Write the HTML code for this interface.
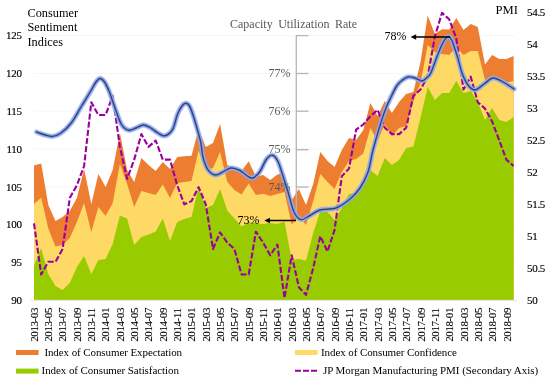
<!DOCTYPE html>
<html><head><meta charset="utf-8"><title>Chart</title>
<style>html,body{margin:0;padding:0;background:#fff}body{width:550px;height:381px;position:relative;overflow:hidden}</style></head>
<body>
<svg width="550" height="381" viewBox="0 0 550 381" style="position:absolute;left:0;top:0">
<line x1="34" x2="514.5" y1="262.2" y2="262.2" stroke="#f5f5f5" stroke-width="1"/>
<line x1="34" x2="514.5" y1="224.5" y2="224.5" stroke="#f5f5f5" stroke-width="1"/>
<line x1="34" x2="514.5" y1="186.7" y2="186.7" stroke="#f5f5f5" stroke-width="1"/>
<line x1="34" x2="514.5" y1="148.9" y2="148.9" stroke="#f5f5f5" stroke-width="1"/>
<line x1="34" x2="514.5" y1="111.1" y2="111.1" stroke="#f5f5f5" stroke-width="1"/>
<line x1="34" x2="514.5" y1="73.4" y2="73.4" stroke="#f5f5f5" stroke-width="1"/>
<line x1="34" x2="514.5" y1="35.6" y2="35.6" stroke="#f5f5f5" stroke-width="1"/>
<polygon fill="#ED7D31" points="34.0,300 34.0,165.6 41.2,163.6 48.3,205.0 55.5,221.0 62.6,217.0 69.8,211.0 76.9,198.0 84.1,169.0 91.3,204.0 98.4,174.0 105.6,187.0 112.7,170.0 119.9,133.0 127.1,170.0 134.2,182.0 141.4,158.0 148.5,165.0 155.7,171.0 162.8,162.0 170.0,169.0 177.2,157.0 184.3,156.3 191.5,155.7 198.6,129.0 205.8,147.0 213.0,143.0 220.1,124.0 227.3,165.0 234.4,168.5 241.6,171.0 248.7,161.3 255.9,176.5 263.1,175.0 270.2,180.0 277.4,174.5 284.5,173.0 291.7,200.0 298.9,189.0 306.0,205.0 313.2,184.0 320.3,152.0 327.5,161.0 334.6,167.0 341.8,150.0 349.0,138.0 356.1,140.0 363.3,130.0 370.4,103.0 377.6,116.0 384.8,101.0 391.9,113.0 399.1,102.0 406.2,94.0 413.4,92.0 420.5,62.0 427.7,15.5 434.9,34.0 442.0,29.3 449.2,29.5 456.3,18.0 463.5,30.0 470.7,24.0 477.8,27.0 485.0,64.5 492.1,55.0 499.3,59.0 506.4,59.0 513.6,56.0 513.6,300"/>
<polygon fill="#FFD966" points="34.0,300 34.0,204.0 41.2,197.8 48.3,228.5 55.5,246.5 62.6,245.0 69.8,238.0 76.9,222.0 84.1,203.0 91.3,232.0 98.4,207.0 105.6,216.0 112.7,203.0 119.9,164.0 127.1,184.0 134.2,207.0 141.4,191.0 148.5,193.0 155.7,195.0 162.8,184.4 170.0,198.0 177.2,183.0 184.3,182.0 191.5,181.0 198.6,150.5 205.8,170.0 213.0,168.0 220.1,152.0 227.3,182.0 234.4,190.0 241.6,194.5 248.7,183.6 255.9,195.0 263.1,193.7 270.2,196.0 277.4,194.0 284.5,192.0 291.7,224.5 298.9,216.0 306.0,225.0 313.2,201.0 320.3,174.0 327.5,182.0 334.6,189.0 341.8,172.0 349.0,161.0 356.1,159.0 363.3,153.5 370.4,128.0 377.6,141.0 384.8,124.0 391.9,136.0 399.1,128.0 406.2,126.0 413.4,101.0 420.5,83.0 427.7,45.0 434.9,52.0 442.0,54.0 449.2,55.0 456.3,47.0 463.5,55.0 470.7,51.0 477.8,51.0 485.0,80.0 492.1,79.5 499.3,81.0 506.4,82.5 513.6,81.0 513.6,300"/>
<polygon fill="#99CC00" points="34.0,300 34.0,265.0 41.2,248.3 48.3,274.0 55.5,286.0 62.6,290.0 69.8,283.0 76.9,267.0 84.1,256.0 91.3,274.0 98.4,260.0 105.6,259.0 112.7,244.0 119.9,215.6 127.1,218.5 134.2,245.0 141.4,237.0 148.5,234.5 155.7,231.6 162.8,218.5 170.0,241.0 177.2,222.0 184.3,219.0 191.5,217.0 198.6,187.0 205.8,208.0 213.0,205.0 220.1,189.0 227.3,210.5 234.4,218.5 241.6,226.5 248.7,222.0 255.9,223.5 263.1,224.0 270.2,223.0 277.4,224.0 284.5,221.5 291.7,260.0 298.9,259.0 306.0,260.5 313.2,233.0 320.3,211.0 327.5,212.0 334.6,220.0 341.8,208.0 349.0,194.0 356.1,193.0 363.3,184.0 370.4,170.0 377.6,176.0 384.8,158.0 391.9,165.0 399.1,160.0 406.2,148.0 413.4,146.5 420.5,118.0 427.7,87.0 434.9,100.0 442.0,93.0 449.2,93.0 456.3,81.0 463.5,93.0 470.7,91.0 477.8,102.0 485.0,120.0 492.1,108.0 499.3,120.0 506.4,122.0 513.6,117.0 513.6,300"/>
<line x1="30.5" x2="517.5" y1="300.3" y2="300.3" stroke="#d9d9d9" stroke-width="0.8"/>
<g stroke="#b6b6b6" stroke-width="1.3" fill="none">
<line x1="296.3" x2="296.3" y1="35.6" y2="219"/>
<line x1="296" x2="308.5" y1="187.1" y2="187.1"/>
<line x1="296" x2="308.5" y1="149.7" y2="149.7"/>
<line x1="296" x2="308.5" y1="111.2" y2="111.2"/>
<line x1="296" x2="308.5" y1="73.5" y2="73.5"/>
<line x1="296" x2="308.5" y1="35.6" y2="35.6"/>
</g>
<polyline fill="none" stroke="#9A00A0" stroke-width="2.1" stroke-dasharray="6 2.2" stroke-linejoin="round" points="34.0,223.4 41.2,274.5 48.3,261.7 55.5,261.7 62.6,249.0 69.8,197.9 76.9,185.2 84.1,166.0 91.3,102.2 98.4,115.0 105.6,115.0 112.7,95.8 119.9,146.9 127.1,178.8 134.2,159.6 141.4,134.1 148.5,146.9 155.7,140.5 162.8,159.6 170.0,159.6 177.2,185.2 184.3,204.3 191.5,201.1 198.6,187.1 205.8,204.3 213.0,249.0 220.1,232.4 227.3,242.6 234.4,249.0 241.6,274.5 248.7,274.5 255.9,231.7 263.1,242.6 270.2,255.3 277.4,244.5 284.5,298.1 291.7,255.3 298.9,287.2 306.0,294.9 313.2,268.1 320.3,236.2 327.5,251.5 334.6,229.8 341.8,176.2 349.0,168.6 356.1,129.7 363.3,124.5 370.4,116.3 377.6,109.9 384.8,127.7 391.9,134.1 399.1,134.1 406.2,127.7 413.4,95.8 420.5,89.5 427.7,76.7 434.9,36.5 442.0,12.9 449.2,19.3 456.3,38.4 463.5,89.5 470.7,76.7 477.8,102.2 485.0,108.6 492.1,121.4 499.3,140.5 506.4,159.6 513.6,166.0"/>
<path d="M36.5,132.0 C37.8,132.5 41.8,134.1 44.5,134.8 C47.2,135.5 49.8,136.7 52.5,136.4 C55.2,136.1 57.9,135.2 61.0,133.0 C64.1,130.8 67.7,127.6 71.0,123.3 C74.3,119.0 77.8,112.3 81.0,107.0 C84.2,101.7 88.0,95.7 90.5,91.5 C93.0,87.3 94.4,84.2 96.0,82.0 C97.6,79.8 98.8,78.5 100.2,78.5 C101.6,78.5 103.0,79.9 104.5,82.0 C106.0,84.1 107.2,86.7 109.0,91.0 C110.8,95.3 112.9,102.4 115.0,108.0 C117.1,113.6 119.2,120.8 121.5,124.5 C123.8,128.2 126.1,129.6 128.5,130.2 C130.9,130.8 133.6,128.9 136.0,128.0 C138.4,127.1 140.9,125.1 143.2,125.0 C145.5,124.9 147.5,126.2 150.0,127.5 C152.5,128.8 155.5,131.6 158.0,133.0 C160.5,134.4 162.4,136.4 164.8,135.8 C167.2,135.2 170.4,133.2 172.5,129.6 C174.6,126.0 176.0,117.9 177.6,114.0 C179.2,110.1 180.6,107.8 182.0,106.0 C183.4,104.2 184.7,103.3 185.9,103.3 C187.2,103.3 188.4,104.3 189.5,106.0 C190.6,107.7 191.5,110.7 192.5,113.5 C193.5,116.3 194.1,118.2 195.5,123.0 C196.9,127.8 199.4,136.3 200.7,142.0 C201.9,147.7 201.8,152.4 203.0,157.0 C204.2,161.6 205.7,166.3 207.7,169.3 C209.7,172.3 212.5,174.5 215.0,175.0 C217.5,175.5 219.9,173.4 222.5,172.2 C225.1,171.0 227.9,168.3 230.8,168.0 C233.7,167.7 237.5,169.3 240.0,170.5 C242.5,171.7 243.9,173.7 246.0,175.0 C248.1,176.3 250.3,178.4 252.3,178.2 C254.3,178.0 256.5,175.5 258.0,174.0 C259.5,172.5 259.8,171.8 261.2,169.3 C262.6,166.8 264.7,161.3 266.6,159.0 C268.5,156.7 270.5,154.8 272.4,155.2 C274.3,155.6 276.2,157.9 278.0,161.5 C279.8,165.1 281.5,171.6 283.2,176.8 C284.9,182.1 286.5,187.1 288.3,193.0 C290.1,198.9 291.9,207.6 294.0,212.0 C296.1,216.4 298.3,219.0 301.0,219.6 C303.7,220.2 306.8,217.1 310.0,215.5 C313.2,213.9 315.7,211.2 320.0,210.0 C324.3,208.8 331.0,209.8 336.0,208.0 C341.0,206.2 346.0,202.3 350.0,199.0 C354.0,195.7 357.0,192.5 360.0,188.0 C363.0,183.5 365.8,178.3 368.0,172.0 C370.2,165.7 370.9,158.0 373.0,150.0 C375.1,142.0 378.3,131.0 380.5,124.0 C382.7,117.0 384.2,112.5 386.0,108.0 C387.8,103.5 389.2,100.8 391.0,97.0 C392.8,93.2 395.1,88.3 397.0,85.5 C398.9,82.7 400.7,81.4 402.5,80.0 C404.3,78.6 405.9,77.3 408.0,77.0 C410.1,76.7 412.7,77.3 415.0,78.0 C417.3,78.7 420.0,81.1 422.0,81.0 C424.0,80.9 425.5,78.8 427.0,77.5 C428.5,76.2 429.2,76.2 430.8,73.0 C432.4,69.8 434.7,62.6 436.5,58.0 C438.3,53.4 440.1,48.6 441.6,45.4 C443.1,42.2 444.3,40.1 445.5,38.6 C446.7,37.1 447.6,36.1 448.6,36.4 C449.7,36.7 450.7,38.2 451.8,40.3 C452.9,42.4 453.9,46.0 455.0,49.2 C456.1,52.4 457.0,55.4 458.2,59.4 C459.4,63.4 460.4,68.7 462.0,73.0 C463.6,77.3 465.8,82.2 468.0,85.0 C470.2,87.8 472.3,90.2 475.0,90.0 C477.7,89.8 481.0,86.0 484.0,84.0 C487.0,82.0 489.8,78.3 493.0,78.0 C496.2,77.7 499.5,80.2 503.0,82.0 C506.5,83.8 512.2,87.8 514.0,89.0" fill="none" stroke="#8CA8F4" stroke-opacity="0.5" stroke-width="5.4" stroke-linecap="round" stroke-linejoin="round"/>
<path d="M36.5,132.0 C37.8,132.5 41.8,134.1 44.5,134.8 C47.2,135.5 49.8,136.7 52.5,136.4 C55.2,136.1 57.9,135.2 61.0,133.0 C64.1,130.8 67.7,127.6 71.0,123.3 C74.3,119.0 77.8,112.3 81.0,107.0 C84.2,101.7 88.0,95.7 90.5,91.5 C93.0,87.3 94.4,84.2 96.0,82.0 C97.6,79.8 98.8,78.5 100.2,78.5 C101.6,78.5 103.0,79.9 104.5,82.0 C106.0,84.1 107.2,86.7 109.0,91.0 C110.8,95.3 112.9,102.4 115.0,108.0 C117.1,113.6 119.2,120.8 121.5,124.5 C123.8,128.2 126.1,129.6 128.5,130.2 C130.9,130.8 133.6,128.9 136.0,128.0 C138.4,127.1 140.9,125.1 143.2,125.0 C145.5,124.9 147.5,126.2 150.0,127.5 C152.5,128.8 155.5,131.6 158.0,133.0 C160.5,134.4 162.4,136.4 164.8,135.8 C167.2,135.2 170.4,133.2 172.5,129.6 C174.6,126.0 176.0,117.9 177.6,114.0 C179.2,110.1 180.6,107.8 182.0,106.0 C183.4,104.2 184.7,103.3 185.9,103.3 C187.2,103.3 188.4,104.3 189.5,106.0 C190.6,107.7 191.5,110.7 192.5,113.5 C193.5,116.3 194.1,118.2 195.5,123.0 C196.9,127.8 199.4,136.3 200.7,142.0 C201.9,147.7 201.8,152.4 203.0,157.0 C204.2,161.6 205.7,166.3 207.7,169.3 C209.7,172.3 212.5,174.5 215.0,175.0 C217.5,175.5 219.9,173.4 222.5,172.2 C225.1,171.0 227.9,168.3 230.8,168.0 C233.7,167.7 237.5,169.3 240.0,170.5 C242.5,171.7 243.9,173.7 246.0,175.0 C248.1,176.3 250.3,178.4 252.3,178.2 C254.3,178.0 256.5,175.5 258.0,174.0 C259.5,172.5 259.8,171.8 261.2,169.3 C262.6,166.8 264.7,161.3 266.6,159.0 C268.5,156.7 270.5,154.8 272.4,155.2 C274.3,155.6 276.2,157.9 278.0,161.5 C279.8,165.1 281.5,171.6 283.2,176.8 C284.9,182.1 286.5,187.1 288.3,193.0 C290.1,198.9 291.9,207.6 294.0,212.0 C296.1,216.4 298.3,219.0 301.0,219.6 C303.7,220.2 306.8,217.1 310.0,215.5 C313.2,213.9 315.7,211.2 320.0,210.0 C324.3,208.8 331.0,209.8 336.0,208.0 C341.0,206.2 346.0,202.3 350.0,199.0 C354.0,195.7 357.0,192.5 360.0,188.0 C363.0,183.5 365.8,178.3 368.0,172.0 C370.2,165.7 370.9,158.0 373.0,150.0 C375.1,142.0 378.3,131.0 380.5,124.0 C382.7,117.0 384.2,112.5 386.0,108.0 C387.8,103.5 389.2,100.8 391.0,97.0 C392.8,93.2 395.1,88.3 397.0,85.5 C398.9,82.7 400.7,81.4 402.5,80.0 C404.3,78.6 405.9,77.3 408.0,77.0 C410.1,76.7 412.7,77.3 415.0,78.0 C417.3,78.7 420.0,81.1 422.0,81.0 C424.0,80.9 425.5,78.8 427.0,77.5 C428.5,76.2 429.2,76.2 430.8,73.0 C432.4,69.8 434.7,62.6 436.5,58.0 C438.3,53.4 440.1,48.6 441.6,45.4 C443.1,42.2 444.3,40.1 445.5,38.6 C446.7,37.1 447.6,36.1 448.6,36.4 C449.7,36.7 450.7,38.2 451.8,40.3 C452.9,42.4 453.9,46.0 455.0,49.2 C456.1,52.4 457.0,55.4 458.2,59.4 C459.4,63.4 460.4,68.7 462.0,73.0 C463.6,77.3 465.8,82.2 468.0,85.0 C470.2,87.8 472.3,90.2 475.0,90.0 C477.7,89.8 481.0,86.0 484.0,84.0 C487.0,82.0 489.8,78.3 493.0,78.0 C496.2,77.7 499.5,80.2 503.0,82.0 C506.5,83.8 512.2,87.8 514.0,89.0" fill="none" stroke="#8CA8F4" stroke-width="3.9" stroke-linecap="round" stroke-linejoin="round"/>
<path d="M36.5,132.0 C37.8,132.5 41.8,134.1 44.5,134.8 C47.2,135.5 49.8,136.7 52.5,136.4 C55.2,136.1 57.9,135.2 61.0,133.0 C64.1,130.8 67.7,127.6 71.0,123.3 C74.3,119.0 77.8,112.3 81.0,107.0 C84.2,101.7 88.0,95.7 90.5,91.5 C93.0,87.3 94.4,84.2 96.0,82.0 C97.6,79.8 98.8,78.5 100.2,78.5 C101.6,78.5 103.0,79.9 104.5,82.0 C106.0,84.1 107.2,86.7 109.0,91.0 C110.8,95.3 112.9,102.4 115.0,108.0 C117.1,113.6 119.2,120.8 121.5,124.5 C123.8,128.2 126.1,129.6 128.5,130.2 C130.9,130.8 133.6,128.9 136.0,128.0 C138.4,127.1 140.9,125.1 143.2,125.0 C145.5,124.9 147.5,126.2 150.0,127.5 C152.5,128.8 155.5,131.6 158.0,133.0 C160.5,134.4 162.4,136.4 164.8,135.8 C167.2,135.2 170.4,133.2 172.5,129.6 C174.6,126.0 176.0,117.9 177.6,114.0 C179.2,110.1 180.6,107.8 182.0,106.0 C183.4,104.2 184.7,103.3 185.9,103.3 C187.2,103.3 188.4,104.3 189.5,106.0 C190.6,107.7 191.5,110.7 192.5,113.5 C193.5,116.3 194.1,118.2 195.5,123.0 C196.9,127.8 199.4,136.3 200.7,142.0 C201.9,147.7 201.8,152.4 203.0,157.0 C204.2,161.6 205.7,166.3 207.7,169.3 C209.7,172.3 212.5,174.5 215.0,175.0 C217.5,175.5 219.9,173.4 222.5,172.2 C225.1,171.0 227.9,168.3 230.8,168.0 C233.7,167.7 237.5,169.3 240.0,170.5 C242.5,171.7 243.9,173.7 246.0,175.0 C248.1,176.3 250.3,178.4 252.3,178.2 C254.3,178.0 256.5,175.5 258.0,174.0 C259.5,172.5 259.8,171.8 261.2,169.3 C262.6,166.8 264.7,161.3 266.6,159.0 C268.5,156.7 270.5,154.8 272.4,155.2 C274.3,155.6 276.2,157.9 278.0,161.5 C279.8,165.1 281.5,171.6 283.2,176.8 C284.9,182.1 286.5,187.1 288.3,193.0 C290.1,198.9 291.9,207.6 294.0,212.0 C296.1,216.4 298.3,219.0 301.0,219.6 C303.7,220.2 306.8,217.1 310.0,215.5 C313.2,213.9 315.7,211.2 320.0,210.0 C324.3,208.8 331.0,209.8 336.0,208.0 C341.0,206.2 346.0,202.3 350.0,199.0 C354.0,195.7 357.0,192.5 360.0,188.0 C363.0,183.5 365.8,178.3 368.0,172.0 C370.2,165.7 370.9,158.0 373.0,150.0 C375.1,142.0 378.3,131.0 380.5,124.0 C382.7,117.0 384.2,112.5 386.0,108.0 C387.8,103.5 389.2,100.8 391.0,97.0 C392.8,93.2 395.1,88.3 397.0,85.5 C398.9,82.7 400.7,81.4 402.5,80.0 C404.3,78.6 405.9,77.3 408.0,77.0 C410.1,76.7 412.7,77.3 415.0,78.0 C417.3,78.7 420.0,81.1 422.0,81.0 C424.0,80.9 425.5,78.8 427.0,77.5 C428.5,76.2 429.2,76.2 430.8,73.0 C432.4,69.8 434.7,62.6 436.5,58.0 C438.3,53.4 440.1,48.6 441.6,45.4 C443.1,42.2 444.3,40.1 445.5,38.6 C446.7,37.1 447.6,36.1 448.6,36.4 C449.7,36.7 450.7,38.2 451.8,40.3 C452.9,42.4 453.9,46.0 455.0,49.2 C456.1,52.4 457.0,55.4 458.2,59.4 C459.4,63.4 460.4,68.7 462.0,73.0 C463.6,77.3 465.8,82.2 468.0,85.0 C470.2,87.8 472.3,90.2 475.0,90.0 C477.7,89.8 481.0,86.0 484.0,84.0 C487.0,82.0 489.8,78.3 493.0,78.0 C496.2,77.7 499.5,80.2 503.0,82.0 C506.5,83.8 512.2,87.8 514.0,89.0" fill="none" stroke="#36436F" stroke-width="1.4" stroke-linecap="round" stroke-linejoin="round"/>
<line x1="268.3" x2="296" y1="220.5" y2="220.5" stroke="#000" stroke-width="1.5"/><polygon fill="#000" points="264.3,220.5 269.90000000000003,217.8 269.90000000000003,223.2"/>
<line x1="414.6" x2="450" y1="37" y2="37" stroke="#000" stroke-width="1.5"/><polygon fill="#000" points="410.6,37 416.20000000000005,34.3 416.20000000000005,39.7"/>
<rect x="16" y="350" width="22.6" height="5" fill="#ED7D31"/>
<rect x="16" y="368.6" width="22.6" height="5" fill="#99CC00"/>
<rect x="295" y="350" width="22.6" height="5" fill="#FFD966"/>
<line x1="295" x2="318" y1="370.8" y2="370.8" stroke="#9A00A0" stroke-width="2" stroke-dasharray="6 2"/>
<g font-family="'Liberation Serif', 'Times New Roman', serif"><text x="27.5" y="16.9" font-size="12.3" fill="#000" text-anchor="start" >Consumer</text>
<text x="27.5" y="31.3" font-size="12.3" fill="#000" text-anchor="start" >Sentiment</text>
<text x="27.5" y="45.7" font-size="12.3" fill="#000" text-anchor="start" >Indices</text>
<text x="21.6" y="304.2" font-size="11" fill="#000" text-anchor="end" letter-spacing="-0.3" stroke="#000" stroke-width="0.15">90</text>
<text x="21.6" y="266.3" font-size="11" fill="#000" text-anchor="end" letter-spacing="-0.3" stroke="#000" stroke-width="0.15">95</text>
<text x="21.6" y="228.4" font-size="11" fill="#000" text-anchor="end" letter-spacing="-0.3" stroke="#000" stroke-width="0.15">100</text>
<text x="21.6" y="190.5" font-size="11" fill="#000" text-anchor="end" letter-spacing="-0.3" stroke="#000" stroke-width="0.15">105</text>
<text x="21.6" y="152.6" font-size="11" fill="#000" text-anchor="end" letter-spacing="-0.3" stroke="#000" stroke-width="0.15">110</text>
<text x="21.6" y="114.7" font-size="11" fill="#000" text-anchor="end" letter-spacing="-0.3" stroke="#000" stroke-width="0.15">115</text>
<text x="21.6" y="76.8" font-size="11" fill="#000" text-anchor="end" letter-spacing="-0.3" stroke="#000" stroke-width="0.15">120</text>
<text x="21.6" y="38.9" font-size="11" fill="#000" text-anchor="end" letter-spacing="-0.3" stroke="#000" stroke-width="0.15">125</text>
<text x="527" y="304.3" font-size="11" fill="#000" text-anchor="start" letter-spacing="-0.3" stroke="#000" stroke-width="0.15">50</text>
<text x="527" y="272.3" font-size="11" fill="#000" text-anchor="start" letter-spacing="-0.3" stroke="#000" stroke-width="0.15">50.5</text>
<text x="527" y="240.3" font-size="11" fill="#000" text-anchor="start" letter-spacing="-0.3" stroke="#000" stroke-width="0.15">51</text>
<text x="527" y="208.3" font-size="11" fill="#000" text-anchor="start" letter-spacing="-0.3" stroke="#000" stroke-width="0.15">51.5</text>
<text x="527" y="176.3" font-size="11" fill="#000" text-anchor="start" letter-spacing="-0.3" stroke="#000" stroke-width="0.15">52</text>
<text x="527" y="144.3" font-size="11" fill="#000" text-anchor="start" letter-spacing="-0.3" stroke="#000" stroke-width="0.15">52.5</text>
<text x="527" y="112.2" font-size="11" fill="#000" text-anchor="start" letter-spacing="-0.3" stroke="#000" stroke-width="0.15">53</text>
<text x="527" y="80.2" font-size="11" fill="#000" text-anchor="start" letter-spacing="-0.3" stroke="#000" stroke-width="0.15">53.5</text>
<text x="527" y="48.2" font-size="11" fill="#000" text-anchor="start" letter-spacing="-0.3" stroke="#000" stroke-width="0.15">54</text>
<text x="527" y="16.2" font-size="11" fill="#000" text-anchor="start" letter-spacing="-0.3" stroke="#000" stroke-width="0.15">54.5</text>
<text x="495.6" y="13.6" font-size="12.6" fill="#000" text-anchor="start" >PMI</text>
<text x="230" y="28" font-size="12" fill="#595959" text-anchor="start" word-spacing="2.5">Capacity Utilization Rate</text>
<text x="290.5" y="190.7" font-size="12" fill="#595959" text-anchor="end" >74%</text>
<text x="290.5" y="153.0" font-size="12" fill="#595959" text-anchor="end" >75%</text>
<text x="290.5" y="115.2" font-size="12" fill="#595959" text-anchor="end" >76%</text>
<text x="290.5" y="77.4" font-size="12" fill="#595959" text-anchor="end" >77%</text>
<text transform="translate(237.5,223.9) scale(1,1.12)" font-size="12" fill="#000">73%</text>
<text transform="translate(384.5,40.1) scale(1,1.12)" font-size="12" fill="#000">78%</text>
<text transform="translate(37.5,341.8) rotate(-90)" font-size="11" letter-spacing="-0.4" fill="#000" stroke="#000" stroke-width="0.1">2013-03</text>
<text transform="translate(51.8,341.8) rotate(-90)" font-size="11" letter-spacing="-0.4" fill="#000" stroke="#000" stroke-width="0.1">2013-05</text>
<text transform="translate(66.1,341.8) rotate(-90)" font-size="11" letter-spacing="-0.4" fill="#000" stroke="#000" stroke-width="0.1">2013-07</text>
<text transform="translate(80.5,341.8) rotate(-90)" font-size="11" letter-spacing="-0.4" fill="#000" stroke="#000" stroke-width="0.1">2013-09</text>
<text transform="translate(94.8,341.8) rotate(-90)" font-size="11" letter-spacing="-0.4" fill="#000" stroke="#000" stroke-width="0.1">2013-11</text>
<text transform="translate(109.2,341.8) rotate(-90)" font-size="11" letter-spacing="-0.4" fill="#000" stroke="#000" stroke-width="0.1">2014-01</text>
<text transform="translate(123.5,341.8) rotate(-90)" font-size="11" letter-spacing="-0.4" fill="#000" stroke="#000" stroke-width="0.1">2014-03</text>
<text transform="translate(137.8,341.8) rotate(-90)" font-size="11" letter-spacing="-0.4" fill="#000" stroke="#000" stroke-width="0.1">2014-05</text>
<text transform="translate(152.2,341.8) rotate(-90)" font-size="11" letter-spacing="-0.4" fill="#000" stroke="#000" stroke-width="0.1">2014-07</text>
<text transform="translate(166.5,341.8) rotate(-90)" font-size="11" letter-spacing="-0.4" fill="#000" stroke="#000" stroke-width="0.1">2014-09</text>
<text transform="translate(180.9,341.8) rotate(-90)" font-size="11" letter-spacing="-0.4" fill="#000" stroke="#000" stroke-width="0.1">2014-11</text>
<text transform="translate(195.2,341.8) rotate(-90)" font-size="11" letter-spacing="-0.4" fill="#000" stroke="#000" stroke-width="0.1">2015-01</text>
<text transform="translate(209.6,341.8) rotate(-90)" font-size="11" letter-spacing="-0.4" fill="#000" stroke="#000" stroke-width="0.1">2015-03</text>
<text transform="translate(223.9,341.8) rotate(-90)" font-size="11" letter-spacing="-0.4" fill="#000" stroke="#000" stroke-width="0.1">2015-05</text>
<text transform="translate(238.2,341.8) rotate(-90)" font-size="11" letter-spacing="-0.4" fill="#000" stroke="#000" stroke-width="0.1">2015-07</text>
<text transform="translate(252.6,341.8) rotate(-90)" font-size="11" letter-spacing="-0.4" fill="#000" stroke="#000" stroke-width="0.1">2015-09</text>
<text transform="translate(266.9,341.8) rotate(-90)" font-size="11" letter-spacing="-0.4" fill="#000" stroke="#000" stroke-width="0.1">2015-11</text>
<text transform="translate(281.3,341.8) rotate(-90)" font-size="11" letter-spacing="-0.4" fill="#000" stroke="#000" stroke-width="0.1">2016-01</text>
<text transform="translate(295.6,341.8) rotate(-90)" font-size="11" letter-spacing="-0.4" fill="#000" stroke="#000" stroke-width="0.1">2016-03</text>
<text transform="translate(309.9,341.8) rotate(-90)" font-size="11" letter-spacing="-0.4" fill="#000" stroke="#000" stroke-width="0.1">2016-05</text>
<text transform="translate(324.3,341.8) rotate(-90)" font-size="11" letter-spacing="-0.4" fill="#000" stroke="#000" stroke-width="0.1">2016-07</text>
<text transform="translate(338.6,341.8) rotate(-90)" font-size="11" letter-spacing="-0.4" fill="#000" stroke="#000" stroke-width="0.1">2016-09</text>
<text transform="translate(353.0,341.8) rotate(-90)" font-size="11" letter-spacing="-0.4" fill="#000" stroke="#000" stroke-width="0.1">2016-11</text>
<text transform="translate(367.3,341.8) rotate(-90)" font-size="11" letter-spacing="-0.4" fill="#000" stroke="#000" stroke-width="0.1">2017-01</text>
<text transform="translate(381.7,341.8) rotate(-90)" font-size="11" letter-spacing="-0.4" fill="#000" stroke="#000" stroke-width="0.1">2017-03</text>
<text transform="translate(396.0,341.8) rotate(-90)" font-size="11" letter-spacing="-0.4" fill="#000" stroke="#000" stroke-width="0.1">2017-05</text>
<text transform="translate(410.3,341.8) rotate(-90)" font-size="11" letter-spacing="-0.4" fill="#000" stroke="#000" stroke-width="0.1">2017-07</text>
<text transform="translate(424.7,341.8) rotate(-90)" font-size="11" letter-spacing="-0.4" fill="#000" stroke="#000" stroke-width="0.1">2017-09</text>
<text transform="translate(439.0,341.8) rotate(-90)" font-size="11" letter-spacing="-0.4" fill="#000" stroke="#000" stroke-width="0.1">2017-11</text>
<text transform="translate(453.4,341.8) rotate(-90)" font-size="11" letter-spacing="-0.4" fill="#000" stroke="#000" stroke-width="0.1">2018-01</text>
<text transform="translate(467.7,341.8) rotate(-90)" font-size="11" letter-spacing="-0.4" fill="#000" stroke="#000" stroke-width="0.1">2018-03</text>
<text transform="translate(482.1,341.8) rotate(-90)" font-size="11" letter-spacing="-0.4" fill="#000" stroke="#000" stroke-width="0.1">2018-05</text>
<text transform="translate(496.4,341.8) rotate(-90)" font-size="11" letter-spacing="-0.4" fill="#000" stroke="#000" stroke-width="0.1">2018-07</text>
<text transform="translate(510.7,341.8) rotate(-90)" font-size="11" letter-spacing="-0.4" fill="#000" stroke="#000" stroke-width="0.1">2018-09</text>
<text x="44.4" y="356.3" font-size="11" fill="#000" text-anchor="start" letter-spacing="-0.09">Index of Consumer Expectation</text>
<text x="41.6" y="374.1" font-size="11" fill="#000" text-anchor="start" letter-spacing="-0.08">Index of Consumer Satisfaction</text>
<text x="321" y="356.3" font-size="11" fill="#000" text-anchor="start" letter-spacing="-0.09">Index of Consumer Confidence</text>
<text x="323" y="374.1" font-size="11" fill="#000" text-anchor="start" letter-spacing="-0.05">JP Morgan Manufacturing PMI (Secondary Axis)</text></g>
</svg>
</body></html>
